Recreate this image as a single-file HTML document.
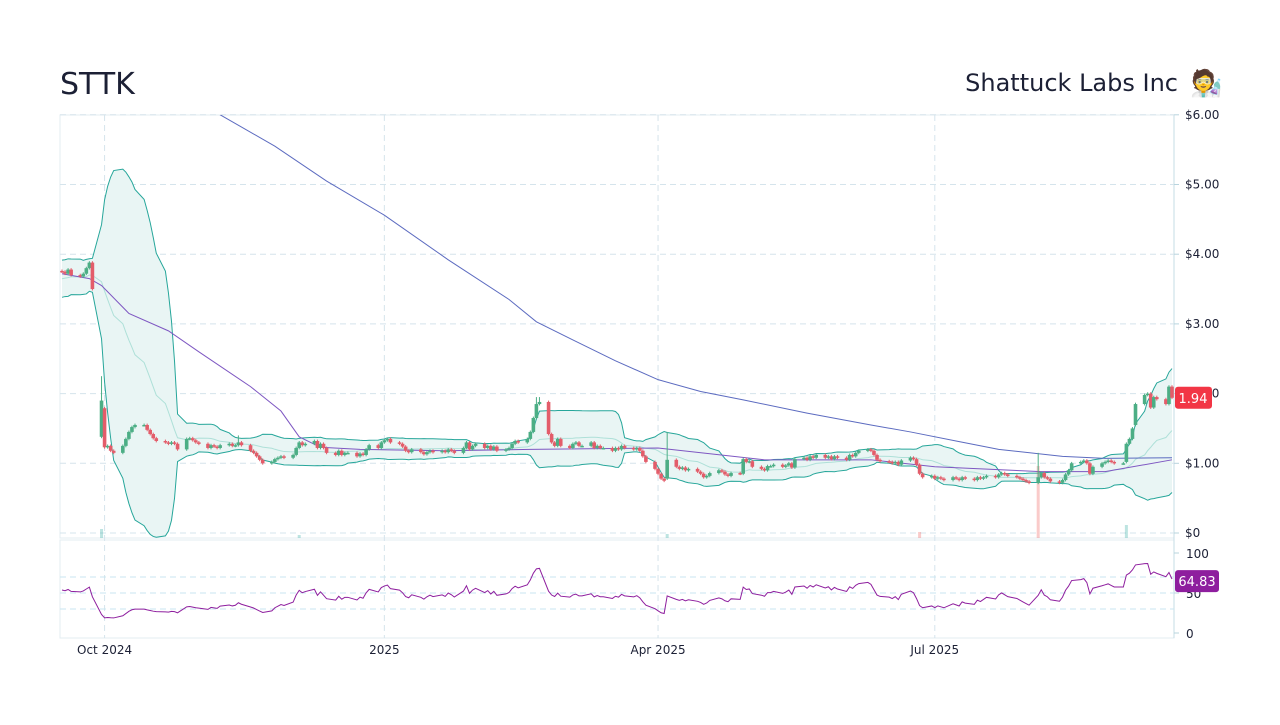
<!DOCTYPE html>
<html><head><meta charset="utf-8"><style>
body{margin:0;background:#fff;width:1280px;height:720px;overflow:hidden;font-family:"Liberation Sans","DejaVu Sans",sans-serif}
svg text{font-family:"DejaVu Sans","Liberation Sans",sans-serif}
</style></head><body>
<svg id="c" width="1280" height="720" xmlns="http://www.w3.org/2000/svg">
<text x="60" y="94" font-size="30" fill="#1c2035">STTK</text>
<text x="1178" y="91" font-size="24" fill="#1c2035" text-anchor="end">Shattuck Labs Inc</text>
<text x="1190" y="92" font-size="26">🧑‍🔬</text>
</svg>
<script>
const priorCloses=[3.55,3.62,3.48,3.70,3.85,3.60,3.42,3.58,3.75,3.90,3.66,3.52,3.40,3.62,3.80,3.72,3.58,3.68,3.78];
const closes=[3.75,3.72,3.78,3.70,3.68,3.72,3.80,3.88,3.50,1.90,1.23,1.25,1.18,1.15,1.25,1.35,1.45,1.52,1.55,1.55,1.48,1.42,1.36,1.32,1.30,1.28,1.30,1.28,1.20,1.35,1.36,1.33,1.30,1.28,1.22,1.26,1.24,1.22,1.26,1.28,1.25,1.26,1.30,1.26,1.18,1.15,1.10,1.05,1.00,1.02,1.06,1.08,1.10,1.08,1.12,1.22,1.30,1.26,1.28,1.32,1.22,1.28,1.22,1.15,1.12,1.18,1.12,1.15,1.15,1.10,1.14,1.12,1.20,1.26,1.22,1.30,1.33,1.35,1.30,1.28,1.24,1.18,1.16,1.20,1.16,1.13,1.16,1.18,1.16,1.18,1.16,1.20,1.18,1.15,1.22,1.30,1.20,1.25,1.28,1.22,1.25,1.20,1.24,1.18,1.20,1.22,1.28,1.32,1.30,1.35,1.45,1.65,1.85,1.88,1.42,1.30,1.25,1.35,1.25,1.22,1.28,1.30,1.25,1.25,1.30,1.22,1.25,1.22,1.22,1.18,1.22,1.20,1.25,1.22,1.20,1.22,1.18,1.10,1.02,0.92,0.85,0.78,0.75,1.05,0.95,0.92,0.94,0.90,0.92,0.88,0.85,0.80,0.82,0.86,0.90,0.88,0.84,0.82,0.86,0.85,1.06,1.02,1.03,0.95,0.92,0.90,0.96,0.96,0.98,0.95,0.97,1.00,0.94,1.06,1.08,1.05,1.10,1.08,1.12,1.08,1.10,1.06,1.10,1.08,1.05,1.12,1.10,1.15,1.18,1.20,1.18,1.12,1.05,1.03,1.02,1.00,1.02,0.98,1.04,1.08,1.06,0.98,0.85,0.80,0.82,0.78,0.80,0.78,0.76,0.80,0.78,0.76,0.80,0.78,0.76,0.80,0.78,0.80,0.82,0.80,0.84,0.86,0.84,0.82,0.80,0.78,0.76,0.74,0.72,0.80,0.86,0.80,0.78,0.74,0.72,0.76,0.84,0.90,1.00,1.02,1.04,1.00,0.85,0.95,1.00,1.02,1.04,1.02,1.00,1.00,1.28,1.35,1.50,1.85,1.98,2.00,1.80,1.95,1.92,1.85,2.10,1.94];
const gapOpens={9:1.38,10:1.79,143:0.78,250:1.02,253:1.55};
const wickHighs={9:2.25,42:1.40,112:1.95,143:1.45,229:1.15,113:1.95};
const sma200Idx=[36,50,63,76,91,105,112,120,130,140,150,160,175,190,199,210,220,235,245,261];
const sma200Val=[6.05,5.55,5.05,4.56,3.92,3.35,3.03,2.77,2.47,2.20,2.03,1.91,1.72,1.55,1.45,1.32,1.20,1.10,1.07,1.08];
const sma50Idx=[0,7,9,16,25,33,44,52,56,61,70,90,110,140,165,190,205,230,245,261];
const sma50Val=[3.72,3.65,3.55,3.15,2.90,2.60,2.10,1.75,1.38,1.23,1.20,1.18,1.20,1.22,1.05,1.05,0.95,0.88,0.88,1.05];
const volSpikeIdx=[9,56,143,202,229,250];
const volSpikeVal=[9,3,4,6,72,13];
const volSpikeUp=[1,1,1,0,0,1];
const priceTicks=[0,1,2,3,4,5,6];
const priceTickLabels=["$0","$1.00","$2.00","$3.00","$4.00","$5.00","$6.00"];
const dateTicks=["2024-10-01","2025-01-01","2025-04-01","2025-07-01"];
const dateTickLabels=["Oct 2024","2025","Apr 2025","Jul 2025"];
const rsiTicks=[0,50,100];
const rsiGrid=[30,50,70];

const NS="http://www.w3.org/2000/svg",svg=document.getElementById('c');
function el(t,a,p){const e=document.createElementNS(NS,t);for(const k in a)e.setAttribute(k,a[k]);(p||svg).appendChild(e);return e;}
const X0=62,X1=1172,start=new Date("2024-09-17T00:00:00Z"),end=new Date("2025-09-17T00:00:00Z");
const dates=[];{let d=new Date(start);while(dates.length<closes.length){const w=d.getUTCDay();if(w>0&&w<6)dates.push(new Date(d));d=new Date(d.getTime()+864e5);}}
const xd=d=>X0+(d-start)/(end-start)*(X1-X0);
const xi=i=>xd(dates[Math.max(0,Math.min(dates.length-1,Math.round(i)))]);
const y=p=>533-p*69.7;
const yr=r=>633-r*0.8;
const f1=el('rect',{x:60,y:115,width:1114,height:423,fill:'none',stroke:'#e3ecf2'});

const f2=el('rect',{x:60,y:540,width:1114,height:98,fill:'none',stroke:'#e3ecf2'});

el('line',{x1:1174,y1:115,x2:1174,y2:638,stroke:'#c6dde6'});
priceTicks.forEach((p,k)=>{
 const g=el('line',{x1:60,x2:1174,y1:y(p),y2:y(p),stroke:'#d5e4ec','stroke-dasharray':'6,4'});
 
 el('line',{x1:1174,x2:1179,y1:y(p),y2:y(p),stroke:'#b8d4de'});
 const t=el('text',{x:1185,y:y(p)+4,'font-size':12,fill:'#1c2035'});t.textContent=priceTickLabels[k];
 
});
dateTicks.forEach((s,k)=>{
 const x=xd(new Date(s+"T00:00:00Z"));
 const g=el('line',{x1:x,x2:x,y1:115,y2:638,stroke:'#d5e4ec','stroke-dasharray':'6,4'});
 
 const t=el('text',{x:x,y:654,'font-size':12,fill:'#1c2035','text-anchor':'middle'});t.textContent=dateTickLabels[k];
 
});
const all=priorCloses.concat(closes),P=priorCloses.length;
const up=[],lo=[],mid=[];
closes.forEach((c,i)=>{const w=all.slice(P+i-19,P+i+1);const m=w.reduce((a,b)=>a+b,0)/w.length;const sd=Math.sqrt(w.reduce((a,b)=>a+(b-m)*(b-m),0)/w.length);mid.push(m);up.push(m+2*sd);lo.push(m-2*sd);});
const clip=el('clipPath',{id:'pc'});el('rect',{x:60,y:115,width:1114,height:423},clip);
const gp=el('g',{'clip-path':'url(#pc)'});
let band=up.map((v,i)=>xi(i)+','+y(v)).join(' ')+' '+lo.map((v,i)=>xi(i)+','+y(v)).reverse().join(' ');
const bf=el('polygon',{points:band,fill:'#e9f5f4',stroke:'none'},gp);
const bu=el('polyline',{points:up.map((v,i)=>xi(i)+','+y(v)).join(' '),fill:'none',stroke:'#26a69a','stroke-width':1},gp);
const bl=el('polyline',{points:lo.map((v,i)=>xi(i)+','+y(v)).join(' '),fill:'none',stroke:'#26a69a','stroke-width':1},gp);
const bm=el('polyline',{points:mid.map((v,i)=>xi(i)+','+y(v)).join(' '),fill:'none',stroke:'#aee0d8','stroke-width':1},gp);
const s2=el('polyline',{points:sma200Idx.map((v,k)=>xi(v)+','+y(sma200Val[k])).join(' '),fill:'none',stroke:'#5c6bc0','stroke-width':1},gp);
const s5=el('polyline',{points:sma50Idx.map((v,k)=>xi(v)+','+y(sma50Val[k])).join(' '),fill:'none',stroke:'#7e57c2','stroke-width':1},gp);
volSpikeIdx.forEach((v,k)=>{
 const r=el('rect',{x:xi(v)-1.5,y:538-volSpikeVal[k],width:3,height:volSpikeVal[k],fill:volSpikeUp[k]?'#26a69a':'#ef5350',opacity:0.3},gp);
 });
closes.forEach((c,i)=>{
 const o=gapOpens[i]!==undefined?gapOpens[i]:(i?closes[i-1]:3.76);
 const hi=wickHighs[i]!==undefined?wickHighs[i]:Math.max(o,c)+0.02, low=Math.min(o,c)-0.02;
 const col=c>=o?'#4cae85':'#e35d6a',x=xi(i);
 const g=el('g',{},gp);
 el('line',{x1:x,x2:x,y1:y(hi),y2:y(low),stroke:col,'stroke-width':1},g);
 const top=y(Math.max(o,c)),h=Math.max(1.5,y(Math.min(o,c))-top);
 el('rect',{x:x-1.8,y:top,width:3.6,height:h,fill:col},g);
});
const last=closes[closes.length-1];
const pb=el('g',{});
el('rect',{x:1175,y:y(last)-11,width:37,height:22,rx:3,fill:'#f23645'},pb);
const pt=el('text',{x:1193,y:y(last)+5,'font-size':13,fill:'#fff','text-anchor':'middle'},pb);pt.textContent=last.toFixed(2);
rsiGrid.forEach(r=>{const g=el('line',{x1:60,x2:1174,y1:yr(r),y2:yr(r),stroke:'#c9e6f0','stroke-dasharray':'6,4'});});
rsiTicks.forEach(r=>{el('line',{x1:1174,x2:1179,y1:yr(r),y2:yr(r),stroke:'#b8d4de'});
 const t=el('text',{x:1186,y:yr(r)+5,'font-size':12,fill:'#1c2035'});t.textContent=String(r);});
let ag=0,al=0;for(let i=1;i<=14;i++){const d=all[i]-all[i-1];ag+=Math.max(d,0);al+=Math.max(-d,0);}ag/=14;al/=14;
const rsi=[];for(let i=15;i<all.length;i++){const d=all[i]-all[i-1];ag=(ag*13+Math.max(d,0))/14;al=(al*13+Math.max(-d,0))/14;if(i>=P)rsi.push(100-100/(1+ag/(al||1e-9)));}
const rl=el('polyline',{points:rsi.map((v,i)=>xi(i)+','+yr(v)).join(' '),fill:'none',stroke:'#8e1e9e','stroke-width':1});
const rb=el('g',{});
const rv=64.83;
el('rect',{x:1175,y:yr(rv)-11,width:44,height:22,rx:3,fill:'#8e1e9e'},rb);
const rt=el('text',{x:1197,y:yr(rv)+5,'font-size':13,fill:'#fff','text-anchor':'middle'},rb);rt.textContent=rv.toFixed(2);
</script>
</body></html>
